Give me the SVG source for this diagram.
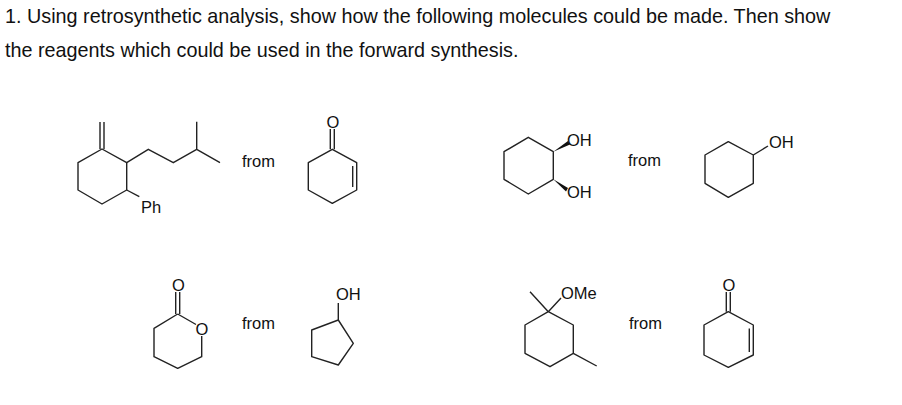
<svg xmlns="http://www.w3.org/2000/svg" width="902" height="405" viewBox="0 0 902 405">
<style>
.b{fill:none;stroke:#222;stroke-width:1.4;stroke-linejoin:round}
.t{font-family:"Liberation Sans",Arial,sans-serif;font-size:19.8px;fill:#111}
.l{font-family:"Liberation Sans",Arial,sans-serif;font-size:16.5px;fill:#111}
</style>
<rect width="902" height="405" fill="#fff"/>
<text class="t" x="5" y="23">1. Using retrosynthetic analysis, show how the following molecules could be made. Then show</text>
<text class="t" x="5" y="57">the reagents which could be used in the forward synthesis.</text>
<g id="m1">
<path class="b" d="M102,149 L126.7,162.7 L126.7,190 L102,204 L78,190 L78,162.7 Z"/>
<path class="b" d="M100,149 V122 M104,149 V122"/>
<path class="b" d="M126.7,162.7 L148.3,149.3 L173.3,162.7 L196.7,149.3 L220,162.7 M196.7,149.3 V121.7"/>
<path class="b" d="M126.7,190 L139.3,196.7"/>
<text class="l" x="141" y="213">Ph</text>
</g>
<g id="from1"><text class="l" x="242" y="167">from</text></g>
<g id="m2">
<path class="b" d="M332.3,149.3 L356.7,162.7 L356.7,190 L332.3,203.3 L308.3,190 L308.3,162.7 Z"/>
<path class="b" d="M330.3,149.3 V129 M334.3,149.3 V129 M352.7,166 V187"/>
<text class="l" x="326.5" y="127.5">O</text>
</g>
<g id="m3">
<path class="b" d="M528.3,137.3 L553.3,151.7 L553.3,179.3 L528.3,194 L504,179.3 L504,151.7 Z"/>
<path d="M553.3,151.7 L568,141 L570,144.5 Z" fill="#111"/>
<path d="M553.3,179.3 L568,188 L566,191.5 Z" fill="#111"/>
<text class="l" x="567" y="146">OH</text>
<text class="l" x="567" y="198">OH</text>
</g>
<g id="from2"><text class="l" x="628" y="166">from</text></g>
<g id="m4">
<path class="b" d="M705,155 L728.3,141.7 L753.3,155 L753.3,183.3 L728.3,197.3 L705,183.3 Z"/>
<path class="b" d="M753.3,155 L768,146"/>
<text class="l" x="769" y="148">OH</text>
</g>
<g id="m5">
<path class="b" d="M177.7,314 L196,324.5 M201.7,336 V356.7 L177.7,368.3 L154,356.7 L154,328.3 L177.7,314"/>
<path class="b" d="M175.7,314 V292 M179.7,314 V292"/>
<text class="l" x="172" y="291">O</text>
<text class="l" x="195.5" y="335">O</text>
</g>
<g id="from3"><text class="l" x="242" y="329">from</text></g>
<g id="m6">
<path class="b" d="M338.3,320 L311.7,330 L311.7,356.7 L338.3,365 L353.3,343.3 Z M338.3,320 V303"/>
<text class="l" x="336" y="300">OH</text>
</g>
<g id="m7">
<path class="b" d="M548.3,311.7 L573.3,325 L573.3,353.3 L550,366.7 L525,353.3 L525,325 Z"/>
<path class="b" d="M548.3,311.7 L530,291.7 M548.3,311.7 L561,298 M573.3,353.3 L596.7,366"/>
<text class="l" x="561" y="299">OMe</text>
</g>
<g id="from4"><text class="l" x="629" y="329">from</text></g>
<g id="m8">
<path class="b" d="M728.3,311.7 L753.3,325 L753.3,355 L728.3,367.3 L704,355 L704,325 Z"/>
<path class="b" d="M726.3,311.7 V292 M730.3,311.7 V292 M749.3,328.5 V352"/>
<text class="l" x="722.5" y="291">O</text>
</g>
<g id="connectors"/>
</svg>
